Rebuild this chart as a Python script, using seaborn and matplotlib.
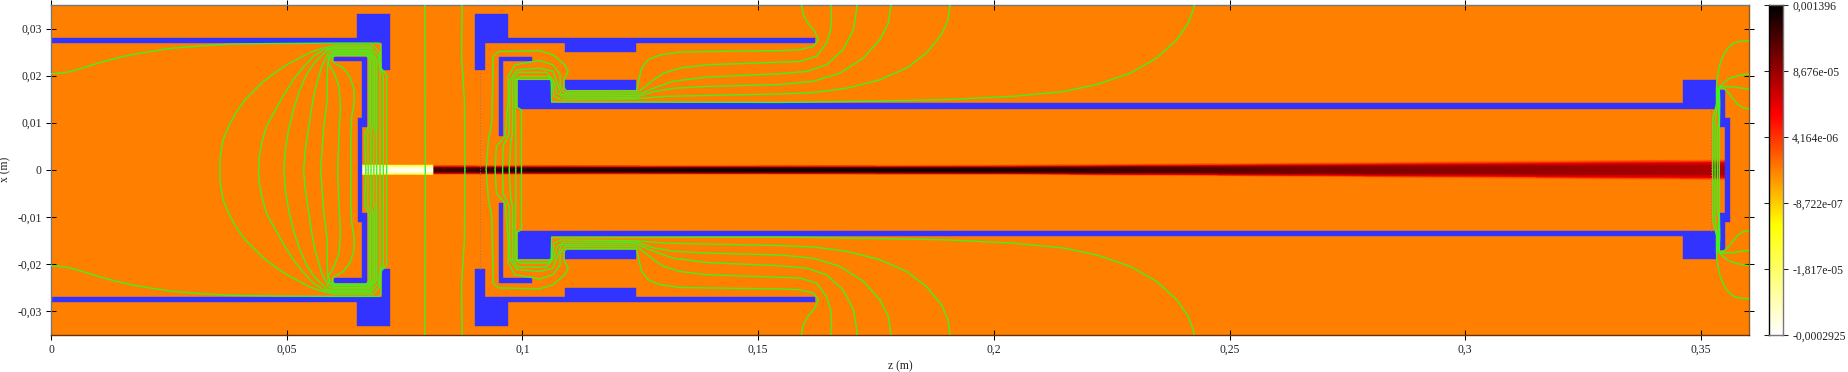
import numpy as np
import pandas as pd
import seaborn as sns
import matplotlib
matplotlib.use("Agg")
import matplotlib.pyplot as plt
from matplotlib.colors import LinearSegmentedColormap

# everything below is the upper half (x >= 0), in mm: (z, x)
# the device is symmetric so the lower half is mirrored when drawing

# electrodes
left_tube = [(0, 28.0), (65.0, 28.0), (65.0, 33.1), (71.9, 33.1), (71.9, 21.1), (70.2, 21.1), (70.2, 27.0), (0, 27.0)]
left_cup = [(60.0, 24.0), (67.0, 24.0), (67.0, 9.1), (66.0, 9.1), (66.0, 0), (65.1, 0), (65.1, 11.1), (66.0, 11.1), (66.0, 23.0), (60.0, 23.0)]
mid_tube = [(89.9, 33.1), (97.0, 33.1), (97.0, 28.0), (162.1, 28.0), (162.1, 27.0), (124.0, 27.0), (124.0, 25.1), (109.0, 25.1), (109.0, 27.0), (92.1, 27.0), (92.1, 21.1), (89.9, 21.1)]
mid_plate = [(95.0, 24.0), (102.0, 24.0), (102.0, 23.0), (95.9, 23.0), (95.9, 7.1), (95.0, 7.1)]
long_tube = [(99.0, 19.0), (106.1, 19.0), (106.1, 14.1), (346.1, 14.1), (346.1, 19.0), (353.1, 19.0), (353.1, 13.0), (99.0, 13.0)]
small_block = [(109.0, 19.0), (124.0, 19.0), (124.0, 17.0), (109.0, 17.0)]
right_cup = [(354.1, 17.0), (355.1, 17.0), (355.1, 11.0), (356.1, 11.0), (356.1, 0), (355.1, 0), (355.1, 9.1), (354.1, 9.1)]
electrodes = [left_tube, left_cup, mid_tube, mid_plate, long_tube, small_block, right_cup]

# equipotential lines, left part
cup_1 = [(66.8, 0), (66.6, 5), (66.6, 7.8), (67.2, 8.8), (67.5, 9.9), (67.5, 23.5), (66.9, 24.3), (60.3, 24.3), (59.7, 23.9), (59.6, 23.2), (60.3, 22.6), (62.0, 21.6), (63.4, 19.8), (64.3, 17.0), (64.3, 14.2), (63.8, 11.3), (63.6, 7.8), (63.6, 0)]
cup_2 = [(67.3, 0), (67.2, 5), (67.2, 7.8), (67.8, 8.8), (67.8, 23.4), (67.2, 24.6), (60.3, 24.6), (59.2, 23.9), (58.8, 22.6), (59.9, 20.9), (61.1, 17.7), (61.4, 13.5), (61.1, 7.8), (60.8, 0)]
cup_3 = [(67.9, 0), (67.8, 5.7), (67.9, 7.8), (68.3, 9.2), (68.3, 23.5), (67.2, 25.0), (60.3, 25.0), (58.8, 24.1), (58.6, 19.8), (58.6, 14.8), (57.8, 8.5), (57.2, 0)]
cup_4 = [(68.5, 0), (68.4, 6.4), (68.7, 8.8), (68.7, 23.4), (67.4, 25.3), (60.3, 25.3), (58.8, 24.8), (57.4, 21.9), (56.0, 17.0), (55.2, 12.7), (54.6, 8.5), (53.9, 4.0), (53.6, 0)]
cup_5 = [(69.1, 0), (69.0, 7.1), (69.1, 9.2), (69.1, 23.4), (67.7, 25.7), (60.3, 25.7), (58.5, 25.3), (56.0, 22.9), (54.2, 20.2), (52.8, 17.0), (51.4, 12.7), (50.4, 8.5), (49.7, 4.2), (49.4, 0)]
cup_6 = [(69.8, 0), (69.8, 21.2), (69.5, 24.1), (67.9, 26.0), (60.3, 26.0), (57.8, 25.5), (55.7, 24.1), (53.5, 21.8), (51.4, 19.1), (49.2, 15.6), (47.2, 12.0), (45.7, 9.2), (44.7, 5.7), (44.2, 2.8), (44.0, 0)]
cup_7 = [(70.5, 0), (70.5, 20.2), (69.8, 21.6), (69.7, 24.8), (68.4, 26.4), (60.3, 26.4), (57.4, 25.8), (54.9, 24.9), (50.0, 22.3), (47.5, 20.6), (45.0, 18.7), (41.2, 14.9), (39.4, 12.4), (38.0, 9.9), (36.5, 6.4), (35.9, 2.8), (35.8, 0)]
cup_8 = [(0, 20.4), (1.5, 20.5), (3.3, 20.7), (5.3, 21.2), (7.6, 21.9), (10.5, 22.8), (13.9, 23.7), (17.3, 24.5), (21.0, 25.1), (25.5, 25.8), (31.6, 26.3), (38.0, 26.7), (45.8, 26.8), (59.9, 26.9), (69.7, 26.9), (69.9, 26.5), (70.0, 21.6), (71.2, 20.2), (71.2, 0)]
gap_1 = [(79.3, 35.0), (79.4, 0)]
gap_2 = [(87.2, 35.0), (87.1, 24.1), (87.7, 14.9), (87.8, 0)]

# middle part, these run out of the top edge
mid_1 = [(92.3, 0), (92.8, 6.4), (93.5, 9.9), (93.8, 24.1), (94.9, 25.1), (103.7, 25.3), (106.5, 24.4), (109.0, 22.3), (109.7, 20.9), (108.8, 19.1), (108.8, 17.5), (109.3, 16.8), (124.2, 16.8), (124.7, 19.1), (125.3, 21.6), (126.7, 23.4), (129.2, 24.4), (133.4, 25.0), (145.0, 25.2), (154.6, 25.3), (158.8, 25.5), (161.7, 26.2), (162.8, 27.6), (162.0, 29.4), (160.6, 31.1), (159.6, 32.9), (159.2, 35.0)]
mid_2 = [(94.2, 0), (94.5, 5.0), (96.3, 7.1), (97.0, 14.9), (97.0, 19.8), (98.4, 22.3), (103.7, 23.2), (106.5, 22.3), (108.0, 20.2), (108.0, 17.7), (109.0, 16.3), (124.2, 16.3), (126.0, 17.6), (127.8, 19.1), (129.9, 20.5), (133.4, 21.6), (139.1, 22.3), (153.2, 22.8), (158.8, 23.0), (162.4, 24.1), (164.5, 26.9), (165.4, 29.7), (165.6, 32.6), (165.4, 35.0)]
mid_3 = [(95.8, 0), (95.9, 5.0), (97.2, 7.8), (97.4, 19.1), (98.8, 21.2), (103.7, 21.6), (106.5, 20.9), (107.4, 18.4), (108.3, 15.9), (124.2, 15.8), (127.8, 17.3), (132.0, 18.8), (139.1, 19.7), (154.6, 20.4), (160.3, 20.9), (164.5, 22.3), (168.0, 25.5), (170.2, 29.7), (170.7, 32.6), (171.0, 35.0)]
mid_4 = [(97.2, 0), (97.5, 5.7), (97.9, 7.8), (97.9, 19.1), (99.1, 20.7), (105.1, 20.7), (106.7, 18.8), (107.3, 16.3), (108.7, 15.4), (124.2, 15.4), (127.8, 16.6), (132.0, 17.3), (139.1, 17.7), (154.6, 18.1), (161.7, 18.8), (167.3, 20.5), (172.3, 23.7), (175.8, 27.6), (177.6, 31.1), (178.2, 35.0)]
mid_5 = [(98.6, 0), (98.6, 5.7), (98.4, 19.1), (99.5, 19.8), (105.5, 19.8), (106.4, 18.4), (106.7, 15.6), (108.3, 14.9), (124.2, 15.1), (130.6, 15.6), (154.6, 16.1), (161.7, 16.4), (168.7, 17.3), (175.8, 19.1), (181.5, 21.6), (185.7, 24.8), (188.9, 28.7), (190.3, 31.9), (190.7, 35.0)]
mid_6 = [(99.8, 0), (99.8, 12.7), (98.8, 13.3), (98.8, 19.2), (106.1, 19.2), (106.2, 14.4), (124.9, 14.4), (154.6, 14.3), (175.8, 14.6), (190.0, 14.9), (204.1, 15.6), (214.7, 16.6), (221.8, 18.1), (228.9, 20.5), (234.5, 23.7), (238.8, 27.6), (241.2, 31.1), (242.3, 34.0), (242.5, 35.0)]

# right end
end_1 = [(360.2, 27.4), (358.5, 27.3), (356.9, 26.9), (355.7, 25.8), (354.8, 24.4), (354.1, 22.7), (353.7, 20.9), (353.4, 19.0), (353.3, 17.3), (353.3, 14.0), (353.0, 12.7), (352.5, 10.6), (352.5, 0)]
end_2 = [(360.2, 20.4), (358.0, 20.0), (356.2, 19.5), (354.8, 18.5), (353.6, 17.3), (353.5, 14.0), (353.3, 12.7), (353.0, 9.9), (353.0, 0)]
end_3 = [(360.2, 17.1), (356.9, 17.6), (354.1, 17.7), (353.7, 17.3), (353.7, 14.0), (353.8, 10.5), (353.5, 8.5), (353.5, 0)]
end_4 = [(360.2, 12.9), (358.9, 13.2), (357.9, 13.8), (356.9, 15.0), (356.0, 16.2), (354.8, 17.3), (353.9, 17.5), (354.0, 14.0), (353.9, 8.5), (353.9, 0)]

contours = [cup_1, cup_2, cup_3, cup_4, cup_5, cup_6, cup_7, cup_8, gap_1, gap_2,
            mid_1, mid_2, mid_3, mid_4, mid_5, mid_6, end_1, end_2, end_3, end_4]

# faint dotted cuts below the flange ends
dotted_z = [91.1, 352.1]
dotted_top = [21.1, 13.0]

# beam, level is position on the colour bar 0..1
beam_z = [81, 100, 150, 200, 232, 263, 294, 336, 355.1]
beam_half = [0.95, 0.95, 0.95, 1.0, 1.25, 1.45, 1.7, 2.05, 2.15]
beam_core = [0.92, 0.96, 0.985, 0.975, 0.917, 0.862, 0.826, 0.791, 0.775]
beam_mid = [0.88, 0.92, 0.94, 0.93, 0.89, 0.84, 0.81, 0.78, 0.765]
beam_edge = [0.72, 0.72, 0.72, 0.72, 0.70, 0.70, 0.69, 0.685, 0.685]
beam_rim = [0.52, 0.52, 0.52, 0.52, 0.5, 0.5, 0.5, 0.5, 0.5]
beam_rows = [0, 0.45, 0.75, 1.0]

# white stub in front of the beam
stub_z = [66.0, 81.0]
stub_half = 0.95
stub_rows = [0, 0.5, 1.0]
stub_levels = [0.0, 0.06, 0.27]

# ticks
z_ticks = [0, 0.05, 0.1, 0.15, 0.2, 0.25, 0.3, 0.35]
z_labels = ["0", "0,05", "0,1", "0,15", "0,2", "0,25", "0,3", "0,35"]
x_ticks = [0.03, 0.02, 0.01, 0, -0.01, -0.02, -0.03]
x_labels = ["0,03", "0,02", "0,01", "0", "-0,01", "-0,02", "-0,03"]
cbar_labels = ["0,001396", "8,676e-05", "4,164e-06", "-8,722e-07", "-1,817e-05", "-0,0002925"]

orange = "#ff8000"
blue = "#3333ff"
green = "#45f020"

sns.set_theme(style="ticks")
plt.rcParams["font.family"] = ["Liberation Serif", "DejaVu Serif"]
plt.rcParams["font.size"] = 8.4

W, H = 1848, 372
cmap = LinearSegmentedColormap.from_list("potential", ["white", "yellow", "red", "black"], N=512)

fig = plt.figure(figsize=(W / 100, H / 100), dpi=100)
ax = fig.add_axes([51 / W, 1 - 334.5 / H, (1749 - 51) / W, 329.5 / H])
ax.set_facecolor(orange)

# beam
rows = np.array(beam_rows)
levels_up = np.array([beam_core, beam_mid, beam_edge, beam_rim])
fracs = np.r_[-rows[:0:-1], rows]
levels = np.vstack([levels_up[:0:-1], levels_up])
bz = np.array(beam_z) / 1000
bh = np.array(beam_half) / 1000
ax.pcolormesh(np.tile(bz, (len(fracs), 1)), np.outer(fracs, bh), levels, shading="gouraud",
              cmap=cmap, vmin=0, vmax=1, zorder=1)

srows = np.array(stub_rows)
sfr = np.r_[-srows[:0:-1], srows]
slv = np.r_[stub_levels[:0:-1], stub_levels]
ax.pcolormesh(np.array(stub_z) / 1000, sfr * stub_half / 1000, np.c_[slv, slv], shading="gouraud",
              cmap=cmap, vmin=0, vmax=1, zorder=1)

# electrodes
for poly in electrodes:
    p = np.array(poly) / 1000
    for sign in (1, -1):
        ax.fill(p[:, 0], sign * p[:, 1], color=blue, lw=0.3, zorder=2)

# contour lines through seaborn
frames = []
for i, line in enumerate(contours):
    p = np.array(line) / 1000
    frames.append(pd.DataFrame({"z": p[:, 0], "x": p[:, 1], "line": 2 * i}))
    frames.append(pd.DataFrame({"z": p[:, 0], "x": -p[:, 1], "line": 2 * i + 1}))
df = pd.concat(frames, ignore_index=True)
sns.lineplot(data=df, x="z", y="x", units="line", estimator=None, sort=False,
             color=green, lw=1.0, ax=ax, zorder=3, legend=False)

for z, top in zip(dotted_z, dotted_top):
    ax.plot([z / 1000, z / 1000], [-top / 1000, top / 1000], color="#b06a78", lw=0.7, ls=(0, (1, 2)), zorder=2)

ax.set_xlim(0, 0.3602)
ax.set_ylim(-0.035, 0.035)
ax.set_xticks(z_ticks)
ax.set_xticklabels(z_labels)
ax.set_yticks(x_ticks)
ax.set_yticklabels(x_labels)
ax.tick_params(axis="both", direction="inout", length=7.2, width=0.75, color="black", labelcolor="#222222",
               top=True, right=True, labelsize=8.4, pad=3)
ax.set_xlabel("z (m)", fontsize=8.4, color="#222222", va="center")
ax.xaxis.set_label_coords(0.5, -31.5 / 329.5)
ax.set_ylabel("x (m)", fontsize=8.4, color="#222222", va="center")
ax.yaxis.set_label_coords(-46 / 1698, 0.5)
ax.spines["top"].set_color("#777777")
ax.spines["left"].set_color("#777777")
ax.spines["bottom"].set_color("#663300")
ax.spines["right"].set_color("#8a5a20")
for s in ax.spines.values():
    s.set_linewidth(1.0)

# colour bar as a one column heatmap
cax = fig.add_axes([1768.5 / W, 1 - 335 / H, 14.5 / W, 330 / H])
gradient = np.linspace(1, 0, 400).reshape(-1, 1)
sns.heatmap(gradient, ax=cax, cmap=cmap, vmin=0, vmax=1, cbar=False, xticklabels=False, yticklabels=False, rasterized=True)
cax.set_yticks(np.linspace(0, 400, 6))
cax.set_yticklabels(cbar_labels, rotation=0)
cax.set_xticks([])
cax.tick_params(axis="y", direction="inout", length=7.2, width=0.75, color="#222222", labelcolor="#222222",
                left=True, right=True, labelleft=False, labelright=True, labelsize=8.4, pad=3)
for name, col in zip(["left", "right", "top", "bottom"], ["black", "#777777", "#555555", "#777777"]):
    cax.spines[name].set_visible(True)
    cax.spines[name].set_color(col)
    cax.spines[name].set_linewidth(1.0)

fig.savefig("out.png", dpi=100)
